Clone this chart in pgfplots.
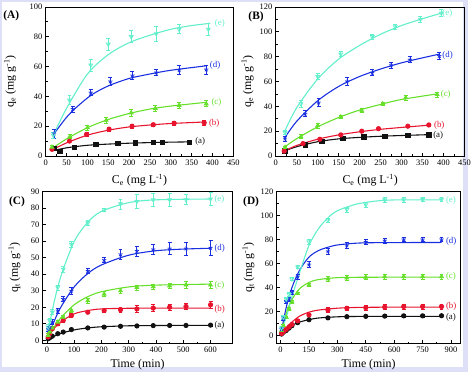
\documentclass[border=0pt]{standalone}
\usepackage{pgfplots}
\pgfplotsset{compat=1.18}
\usepackage{fontspec}
\setmainfont{Liberation Serif}
\definecolor{lav}{HTML}{DDE0F7}
\definecolor{ca}{HTML}{111111}
\definecolor{cb}{HTML}{E8142E}
\definecolor{cc}{HTML}{66E02A}
\definecolor{cd}{HTML}{1A30E0}
\definecolor{ce}{HTML}{62EFCB}
\tikzset{lab/.style={anchor=west, font=\fontsize{9}{10}\selectfont, inner sep=0.5pt}}
\pgfplotsset{
  panel/.style={scale only axis, anchor=south west, axis line style={line width=0.8pt},
    tick align=inside, xtick pos=bottom, ytick pos=left, major tick length=3.5pt, minor tick length=2pt,
    every tick/.style={black, line width=0.7pt},
    tick label style={font=\fontsize{8.5}{9}\selectfont},
    label style={font=\fontsize{12}{13}\selectfont},
    /pgf/number format/assume math mode=true,
    scaled ticks=false, clip=false},
  fit/.style={mark=none, line width=1.1pt, smooth},
  pt/.style={only marks, mark size=2.2pt, line width=0.8pt,
    error bars/y dir=both, error bars/y explicit, error bars/error bar style={line width=0.8pt},
    error bars/error mark options={rotate=90, mark size=2pt, line width=0.8pt}},
}
\begin{document}
\begin{tikzpicture}
\fill[lav] (0pt,0pt) rectangle (474pt,377pt);
\fill[white] (2pt,5pt) rectangle (469pt,375pt);
\node[font=\bfseries\fontsize{11.5}{12}\selectfont] at (11pt,361pt) {(A)};
\node[font=\bfseries\fontsize{11.5}{12}\selectfont] at (259pt,360pt) {(B)};
\node[font=\bfseries\fontsize{11.5}{12}\selectfont] at (17pt,173pt) {(C)};
\node[font=\bfseries\fontsize{11.5}{12}\selectfont] at (254pt,173pt) {(D)};
% ---------------- A
\begin{axis}[panel, at={(46pt,219pt)}, width=190pt, height=151pt,
  xmin=0, xmax=450, ymin=0, ymax=100, xtick={0,50,...,450}, ytick={0,20,...,100},
  minor x tick num=1, minor y tick num=1,
  xlabel={C\textsubscript{e} (mg L\textsuperscript{-1})}, ylabel={q\textsubscript{e} (mg g\textsuperscript{-1})},
  xlabel style={at={(axis description cs:0.5,-0.16)}, anchor=center},
  ylabel style={at={(axis description cs:-0.19,0.5)}, anchor=center}]
\addplot[fit, ca] coordinates {(15,3.5)(50,5.5)(100,7.2)(150,8)(200,8.6)(250,9)(300,9.3)(350,9.5)};
\addplot[fit, cb] coordinates {(15,4)(50,8.8)(100,14)(150,17.3)(200,19.5)(250,20.8)(300,21.8)(380,22.8)};
\addplot[fit, cc] coordinates {(15,5)(50,11.5)(100,19)(150,24.5)(200,28.5)(250,31.5)(300,33.5)(385,36)};
\addplot[fit, cd] coordinates {(20,15)(50,26)(75,33)(110,41)(150,47)(200,52)(250,55)(300,57.5)(385,60.5)};
\addplot[fit, ce] coordinates {(18,14)(50,32)(100,55)(150,68)(200,76)(250,81)(300,85)(350,87.5)(395,89)};
\addplot[pt, ca, mark=square*] coordinates {(20,5)+-(0,1)(34,3.3)+-(0,1)(69,5.7)+-(0,1)(120,7.8)+-(0,1)(173,8.4)+-(0,1)(215,8.8)+-(0,1)(259,9)+-(0,1)(280,9)+-(0,1)(344,9.3)+-(0,1)};
\addplot[pt, cb, mark=*] coordinates {(15,4.5)+-(0,1)(57,10)+-(0,1)(98,14.5)+-(0,1.2)(152,18)+-(0,1.2)(207,20)+-(0,1.2)(258,21)+-(0,1.2)(308,22)+-(0,1.2)(380,22.3)+-(0,1.5)};
\addplot[pt, cc, mark=triangle*] coordinates {(15,6)+-(0,1)(58,13)+-(0,1.2)(100,19)+-(0,1.5)(145,24)+-(0,2)(205,29)+-(0,2.5)(263,32)+-(0,2)(320,34)+-(0,2)(385,35)+-(0,2)};
\addplot[pt, cd, mark=star] coordinates {(20,15)+-(0,3)(65,31.5)+-(0,2)(108,42.5)+-(0,2)(155,50)+-(0,2.5)(208,54)+-(0,2.5)(265,56)+-(0,2)(320,57.5)+-(0,3)(385,58)+-(0,3)};
\addplot[pt, ce, mark=triangle, mark options={rotate=180}] coordinates {(18,14)+-(0,2)(57,37.5)+-(0,3)(108,61)+-(0,4)(150,75)+-(0,4)(205,80)+-(0,4)(265,82)+-(0,5)(320,85)+-(0,3)(390,85)+-(0,4)};
\node[lab, ca] at (axis cs:357,9.5) {(a)};
\node[lab, cb] at (axis cs:390,22) {(b)};
\node[lab, cc] at (axis cs:396,36) {(c)};
\node[lab, cd] at (axis cs:392,61) {(d)};
\node[lab, ce] at (axis cs:404,89) {(e)};
\end{axis}
% ---------------- B
\begin{axis}[panel, at={(279pt,219pt)}, width=191pt, height=151pt,
  xmin=0, xmax=450, ymin=0, ymax=120, xtick={0,50,...,450}, ytick={0,20,...,120},
  minor x tick num=1, minor y tick num=1,
  xlabel={C\textsubscript{e} (mg L\textsuperscript{-1})}, ylabel={q\textsubscript{e} (mg g\textsuperscript{-1})},
  xlabel style={at={(axis description cs:0.5,-0.16)}, anchor=center},
  ylabel style={at={(axis description cs:-0.15,0.5)}, anchor=center}]
\addplot[fit, ca] coordinates {(20,4)(50,7.5)(100,11.5)(150,13.8)(200,15)(250,15.9)(300,16.5)(365,17.2)};
\addplot[fit, cb] coordinates {(20,4)(50,8.5)(100,13.5)(150,17)(200,19.5)(250,21.5)(300,23)(365,24.8)};
\addplot[fit, cc] coordinates {(20,7)(50,14)(100,23.5)(150,31)(200,37)(250,41.5)(300,45.5)(385,50)};
\addplot[fit, cd] coordinates {(20,14)(50,28)(100,44.5)(150,56)(200,64)(250,70)(300,75)(350,79)(390,82)};
\addplot[fit, ce] coordinates {(20,19)(50,39)(100,62)(150,78)(200,89)(250,98)(300,105)(350,110.5)(395,115)};
\addplot[pt, ca, mark=square*] coordinates {(22,4)+-(0,1)(70,9)+-(0,1)(110,12)+-(0,1)(160,14)+-(0,1)(210,15.5)+-(0,1)(260,16)+-(0,1)(315,16.5)+-(0,1)(365,17)+-(0,1)};
\addplot[pt, cb, mark=*] coordinates {(20,4)+-(0,1)(65,10)+-(0,1)(105,13.5)+-(0,1)(155,17)+-(0,1)(205,20)+-(0,1)(245,22)+-(0,1)(315,24)+-(0,1)(365,25)+-(0,1)};
\addplot[pt, cc, mark=triangle*] coordinates {(22,7)+-(0,1)(60,15.5)+-(0,1.5)(100,24.5)+-(0,2)(155,31.5)+-(0,1.5)(205,36.5)+-(0,1.5)(255,42)+-(0,1.5)(310,47)+-(0,2)(385,49.5)+-(0,2)};
\addplot[pt, cd, mark=star] coordinates {(22,14)+-(0,2)(70,34)+-(0,2.5)(102,43)+-(0,3)(170,60)+-(0,3)(230,67)+-(0,2.5)(275,73)+-(0,2.5)(320,77.5)+-(0,2.5)(390,80.5)+-(0,2.5)};
\addplot[pt, ce, mark=triangle, mark options={rotate=180}] coordinates {(22,19)+-(0,2)(60,42)+-(0,2.5)(100,64)+-(0,2.5)(155,82)+-(0,2)(230,96)+-(0,2)(285,104)+-(0,2)(345,110)+-(0,2.5)(395,115)+-(0,3)};
\node[lab, ca] at (axis cs:374,16.5) {(a)};
\node[lab, cb] at (axis cs:376,25) {(b)};
\node[lab, cc] at (axis cs:392,50) {(c)};
\node[lab, cd] at (axis cs:396,81) {(d)};
\node[lab, ce] at (axis cs:396,115) {(e)};
\end{axis}
% ---------------- C
\begin{axis}[panel, at={(43pt,29pt)}, width=192pt, height=154pt,
  xmin=-15, xmax=680, ymin=-2, ymax=90, xtick={0,100,...,600}, ytick={0,10,...,90},
  minor x tick num=1,
  xlabel={Time (min)}, ylabel={q\textsubscript{t} (mg g\textsuperscript{-1})},
  xlabel style={at={(axis description cs:0.5,-0.14)}, anchor=center},
  ylabel style={at={(axis description cs:-0.15,0.5)}, anchor=center}]
\addplot[fit, ca] coordinates {(0,0)(20,1.9)(50,4.1)(100,6.3)(150,7.5)(200,8.2)(300,8.8)(400,8.95)(600,9.1)};
\addplot[fit, cb] coordinates {(0,0)(20,5.8)(50,11)(100,16)(150,18)(200,19)(300,19.4)(450,19.5)(600,19.5)};
\addplot[fit, cc] coordinates {(0,0)(20,6.2)(50,13.4)(100,21.5)(150,26.4)(200,29.4)(300,32.3)(400,33.4)(600,34)};
\addplot[fit, cd] coordinates {(0,0)(20,8.9)(50,19.7)(100,32.3)(150,40.4)(200,45.6)(300,51.5)(400,54.2)(500,55.2)(600,55.7)};
\addplot[fit, ce] coordinates {(0,0)(20,18.2)(50,38)(100,59.7)(150,71.4)(200,78)(300,83.3)(400,85)(600,85.5)};
\addplot[pt, ca, mark=*] coordinates {(5,1)+-(0,0.5)(10,1.5)+-(0,0.5)(20,2.5)+-(0,0.5)(40,4)+-(0,0.5)(60,5)+-(0,0.5)(90,6.5)+-(0,0.5)(150,7.5)+-(0,0.5)(210,8)+-(0,0.5)(270,8.5)+-(0,0.5)(330,8.7)+-(0,0.5)(390,8.9)+-(0,0.5)(450,9)+-(0,0.5)(510,9)+-(0,0.5)(600,9.2)+-(0,0.5)};
\addplot[pt, cb, mark=*] coordinates {(5,2)+-(0,1)(10,4)+-(0,1)(20,7)+-(0,1)(40,10)+-(0,1)(60,12)+-(0,1)(90,15)+-(0,1)(150,17)+-(0,1)(210,18)+-(0,1)(270,18.5)+-(0,1.5)(330,19)+-(0,2)(390,19.5)+-(0,2)(450,20)+-(0,2)(510,20.5)+-(0,2)(600,21.5)+-(0,2)};
\addplot[pt, cc, mark=triangle*] coordinates {(5,3)+-(0,1)(10,5)+-(0,1)(20,7.5)+-(0,1)(40,11)+-(0,1)(60,14)+-(0,1)(90,18)+-(0,1)(150,24)+-(0,1.5)(210,28)+-(0,1.5)(270,30)+-(0,1.5)(330,32)+-(0,1.5)(390,32.5)+-(0,1.5)(450,33)+-(0,1.5)(510,33.5)+-(0,2)(600,33.5)+-(0,2)};
\addplot[pt, cd, mark=star] coordinates {(5,7)+-(0,1.5)(10,8)+-(0,1.5)(20,11)+-(0,1.5)(40,18)+-(0,1.5)(60,25)+-(0,1.5)(90,30)+-(0,2)(150,42)+-(0,1.5)(210,48.5)+-(0,1.5)(270,52)+-(0,3)(330,54)+-(0,3)(390,55)+-(0,3)(450,55.5)+-(0,3.5)(510,55.5)+-(0,4)(600,56)+-(0,4.5)};
\addplot[pt, ce, mark=triangle, mark options={rotate=180}] coordinates {(5,8)+-(0,1.5)(10,12)+-(0,1.5)(20,17)+-(0,1.5)(40,32)+-(0,1.5)(60,43)+-(0,2)(90,58)+-(0,2)(150,71)+-(0,1.5)(210,79)+-(0,1)(270,82.5)+-(0,3)(330,84)+-(0,4)(390,85)+-(0,4)(450,85)+-(0,4)(510,85)+-(0,3)(600,85.5)+-(0,4)};
\node[lab, ca] at (axis cs:612,9) {(a)};
\node[lab, cb] at (axis cs:612,18.5) {(b)};
\node[lab, cc] at (axis cs:612,33.5) {(c)};
\node[lab, cd] at (axis cs:612,55.5) {(d)};
\node[lab, ce] at (axis cs:612,85) {(e)};
\end{axis}
% ---------------- D
\begin{axis}[panel, at={(280pt,29pt)}, width=186pt, height=154pt,
  xmin=-20, xmax=950, ymin=-7, ymax=120, xtick={0,150,...,900}, ytick={0,20,...,120},
  minor x tick num=1, minor y tick num=1,
  xlabel={Time (min)}, ylabel={q\textsubscript{t} (mg g\textsuperscript{-1})},
  xlabel style={at={(axis description cs:0.5,-0.14)}, anchor=center},
  ylabel style={at={(axis description cs:-0.155,0.5)}, anchor=center}]
\addplot[fit, ca] coordinates {(0,0)(30,4.9)(60,8.3)(100,11)(150,13)(200,14.4)(300,15.4)(400,15.7)(600,15.8)(850,15.8)};
\addplot[fit, cb] coordinates {(0,0)(30,6.4)(60,11)(100,15.9)(150,19.3)(200,21)(300,22.6)(400,23.2)(600,23.5)(850,23.5)};
\addplot[fit, cc] coordinates {(0,0)(30,18.4)(60,29.8)(100,38.8)(150,44.1)(200,46.5)(300,48.1)(400,48.4)(600,48.5)(850,48.5)};
\addplot[fit, cd] coordinates {(0,0)(30,23.4)(60,39.8)(100,54.2)(150,65.3)(200,70.7)(250,73.5)(300,75.4)(400,76.9)(500,77.3)(850,77.5)};
\addplot[fit, ce] coordinates {(0,3)(30,15)(60,32)(100,52)(150,75)(200,89)(250,98)(300,104)(400,109.5)(500,112)(600,113)(850,113)};
\addplot[pt, ca, mark=*] coordinates {(5,1)+-(0,0.5)(15,2.5)+-(0,0.5)(30,4)+-(0,0.5)(45,6)+-(0,0.5)(60,8)+-(0,0.5)(90,10.5)+-(0,0.5)(150,13)+-(0,1)(250,14.5)+-(0,1)(350,15.5)+-(0,1)(450,15.8)+-(0,1)(550,16)+-(0,1)(650,16.2)+-(0,1)(750,16.2)+-(0,1)(850,16.3)+-(0,1)};
\addplot[pt, cb, mark=*] coordinates {(5,1.5)+-(0,0.5)(15,3)+-(0,0.5)(30,5)+-(0,0.5)(45,7)+-(0,1)(60,9)+-(0,1)(90,12)+-(0,1)(150,17)+-(0,1.5)(250,21)+-(0,2)(350,22.5)+-(0,2)(450,23)+-(0,2)(550,23.5)+-(0,2)(650,24)+-(0,2)(750,24)+-(0,2)(850,24)+-(0,2)};
\addplot[pt, cc, mark=triangle*] coordinates {(5,4)+-(0,1)(15,8)+-(0,1)(30,15)+-(0,1)(45,22)+-(0,1)(60,28)+-(0,1)(90,35)+-(0,1)(150,42)+-(0,1.5)(250,47)+-(0,2)(350,48)+-(0,2)(450,48.5)+-(0,2)(550,49)+-(0,2)(650,49)+-(0,2)(750,49)+-(0,2)(850,49)+-(0,2)};
\addplot[pt, cd, mark=star] coordinates {(5,5)+-(0,1.5)(15,14)+-(0,1.5)(30,28)+-(0,1.5)(45,30)+-(0,1.5)(60,36)+-(0,1.5)(90,49)+-(0,2)(150,59)+-(0,2.5)(250,70)+-(0,2.5)(350,75)+-(0,2.5)(450,78)+-(0,2)(550,79)+-(0,2)(650,80)+-(0,2)(750,80)+-(0,2)(850,80)+-(0,2)};
\addplot[pt, ce, mark=triangle, mark options={rotate=180}] coordinates {(5,6)+-(0,1.5)(15,15)+-(0,1.5)(30,30)+-(0,1.5)(45,34)+-(0,1.5)(60,47)+-(0,1.5)(90,57)+-(0,1.5)(150,78)+-(0,2)(250,96)+-(0,2)(350,105)+-(0,2)(450,109)+-(0,2)(550,113)+-(0,2)(650,113)+-(0,2)(750,113.5)+-(0,1.5)(850,113.5)+-(0,1.5)};
\node[lab, ca] at (axis cs:870,15) {(a)};
\node[lab, cb] at (axis cs:870,24) {(b)};
\node[lab, cc] at (axis cs:870,49) {(c)};
\node[lab, cd] at (axis cs:870,78) {(d)};
\node[lab, ce] at (axis cs:870,113) {(e)};
\end{axis}
\end{tikzpicture}
\end{document}
